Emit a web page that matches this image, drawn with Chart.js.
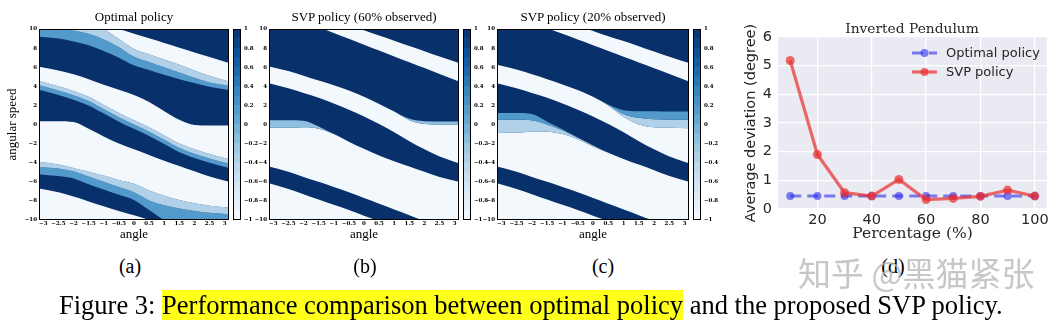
<!DOCTYPE html>
<html>
<head>
<meta charset="utf-8">
<script src="https://cdn.jsdelivr.net/npm/chart.js@4.4.1/dist/chart.umd.min.js"></script>
<style>
  html, body { margin:0; padding:0; background:#fff; }
  body { width:1063px; height:329px; position:relative; overflow:hidden; }
  canvas { position:absolute; top:0; }
  .txt { position:absolute; white-space:nowrap; color:#000; font-family:'Liberation Serif','Times New Roman',serif; }
  .c { transform:translateX(-50%); }
</style>
</head>
<body>
<canvas id="heatA" width="232" height="250" style="left:0px"></canvas>
<canvas id="barA" width="30" height="250" style="left:232px"></canvas>
<canvas id="heatB" width="218" height="250" style="left:244px"></canvas>
<canvas id="barB" width="30" height="250" style="left:462px"></canvas>
<canvas id="heatC" width="220" height="250" style="left:472px"></canvas>
<canvas id="barC" width="30" height="250" style="left:692px"></canvas>
<canvas id="lineD" width="333" height="250" style="left:730px"></canvas>

<div class="txt c" style="left:134px;top:9px;font-size:13px;line-height:15px">Optimal policy</div>
<div class="txt c" style="left:364px;top:9px;font-size:13px;line-height:15px">SVP policy (60% observed)</div>
<div class="txt c" style="left:593px;top:9px;font-size:13px;line-height:15px">SVP policy (20% observed)</div>
<div class="txt c" style="left:912px;top:20px;font-size:13.8px;line-height:16px;font-family:'DejaVu Serif',serif;color:#262626">Inverted Pendulum</div>

<div class="txt c" style="left:130px;top:256px;font-size:20px;line-height:20px">(a)</div>
<div class="txt c" style="left:365px;top:256px;font-size:20px;line-height:20px">(b)</div>
<div class="txt c" style="left:603px;top:256px;font-size:20px;line-height:20px">(c)</div>
<div class="txt c" style="left:893px;top:256px;font-size:20px;line-height:20px">(d)</div>
<div class="txt" style="left:798px;top:252px;font-size:33px;line-height:40px;font-family:'Noto Sans CJK SC',sans-serif;color:rgba(185,185,185,0.8)">知乎 @黑猫紧张</div>
<div class="txt" style="left:59px;top:292px;font-size:26.5px;line-height:26.5px">Figure 3: <span style="background:#ffff1a">Performance comparison between optimal policy</span> and the proposed SVP policy.</div>

<script>
// ---------------- data ----------------
const angleGrid  = [-3.1416, -2.5, -2, -1.5, -1, -0.5, 0, 0.5, 1, 1.5, 2, 2.5, 3.1416];
const angleTicks = [-3, -2.5, -2, -1.5, -1, -0.5, 0, 0.5, 1, 1.5, 2, 2.5, 3];
const speedTicks = [-10, -8, -6, -4, -2, 0, 2, 4, 6, 8, 10];
const colorbarTicks  = [-1, -0.8, -0.6, -0.4, -0.2, 0, 0.2, 0.4, 0.6, 0.8, 1];
const colorbarLevels = [-1, -0.9, -0.8, -0.7, -0.6, -0.5, -0.4, -0.3, -0.2, -0.1, 0, 0.1, 0.2, 0.3, 0.4, 0.5, 0.6, 0.7, 0.8, 0.9, 1];

// (a) optimal policy: switching curves (angular speed at each angleGrid point)
const optSwitch0  = [12.6, 11.96, 11.47, 10.98, 10.49, 10.0, 9.51, 9.02, 8.53, 8.04, 7.55, 7.06, 6.44];
const optSwitch1w = [11.6, 11.3, 11.0, 10.6, 10.0, 8.95, 7.9, 7.35, 6.8, 6.25, 5.65, 5.1, 4.5];
const optSwitch1m = [10.2, 10.05, 9.85, 9.5, 8.9, 8.1, 7.1, 6.55, 6.0, 5.45, 4.9, 4.4, 4.05];
const optSwitch1d = [9.2, 9.0, 8.7, 8.3, 7.7, 7.0, 6.2, 5.7, 5.2, 4.75, 4.35, 3.95, 3.6];
const optSwitch2  = [6.05, 5.65, 5.25, 4.75, 4.15, 3.65, 3.1, 2.35, 1.4, 0.5, -0.05, -0.1, -0.1];
const optSwitch3w = [4.55, 4.0, 3.5, 2.9, 2.05, 1.2, 0.45, -0.3, -1.15, -2.0, -2.6, -3.1, -3.65];
const optSwitch3m = [4.1, 3.55, 3.05, 2.45, 1.6, 0.75, 0.0, -0.75, -1.6, -2.45, -3.05, -3.55, -4.1];
const optSwitch3d = [3.65, 3.1, 2.6, 2.0, 1.15, 0.3, -0.45, -1.2, -2.05, -2.9, -3.5, -4.0, -4.55];
const optSwitch4  = [0.35, 0.35, 0.25, -0.45, -1.25, -2.0, -2.6, -3.2, -3.8, -4.35, -4.9, -5.45, -6.0];
const optSwitch5w = [-3.9, -4.2, -4.55, -4.95, -5.35, -5.8, -6.2, -6.9, -7.45, -7.9, -8.25, -8.5, -8.7];
const optSwitch5m = [-4.5, -4.6, -4.9, -5.45, -6.0, -6.55, -7.1, -7.95, -8.45, -8.8, -9.05, -9.25, -9.4];
const optSwitch5d = [-5.2, -5.4, -5.65, -6.25, -6.8, -7.35, -7.9, -8.95, -10.0, -10.6, -11.0, -11.3, -11.6];
const optSwitch6  = [-6.7, -7.1, -7.55, -8.05, -8.55, -9.05, -9.5, -10.0, -10.5, -11.0, -11.5, -12.0, -12.6];

// (b) SVP policy, 60% observed
const svp60Switch0  = [13.0, 12.4, 11.9, 11.4, 10.9, 10.4, 9.86, 9.31, 8.77, 8.22, 7.68, 7.13, 6.43];
const svp60Switch1  = [12.1, 11.4, 10.8, 10.2, 9.58, 8.97, 8.36, 7.75, 7.13, 6.52, 5.91, 5.3, 4.51];
const svp60Switch2  = [6.08, 5.6, 5.1, 4.6, 4.1, 3.55, 2.9, 2.15, 1.35, 0.6, 0.35, 0.32, 0.31];
const svp60Switch2f = [6.08, 5.6, 5.1, 4.6, 4.1, 3.55, 2.9, 2.15, 1.35, 0.45, 0.05, 0.0, -0.03];
const svp60Switch3  = [4.33, 3.8, 3.3, 2.8, 2.2, 1.55, 0.85, 0.05, -0.8, -1.75, -2.6, -3.35, -4.06];
const svp60Switch4  = [0.45, 0.45, 0.4, -0.2, -1.0, -1.8, -2.55, -3.25, -3.85, -4.4, -4.95, -5.5, -6.0];
const svp60Switch4f = [-0.35, -0.35, -0.3, -0.45, -1.0, -1.8, -2.55, -3.25, -3.85, -4.4, -4.95, -5.5, -6.0];
const svp60Switch5  = [-4.4, -4.95, -5.5, -6.0, -6.55, -7.1, -7.7, -8.3, -8.9, -9.5, -10.1, -10.7, -11.4];
const svp60Switch6  = [-6.15, -6.75, -7.3, -7.85, -8.4, -8.95, -9.55, -10.1, -10.7, -11.3, -11.9, -12.5, -13.0];

// (c) SVP policy, 20% observed
const svp20Switch0  = [13.0, 12.4, 11.9, 11.4, 10.85, 10.3, 9.8, 9.25, 8.75, 8.2, 7.65, 7.1, 6.43];
const svp20Switch1  = [12.0, 11.3, 10.7, 10.1, 9.5, 8.9, 8.3, 7.7, 7.1, 6.5, 5.9, 5.3, 4.5];
const svp20Switch2  = [6.25, 5.75, 5.25, 4.75, 4.2, 3.6, 2.9, 2.1, 1.5, 1.4, 1.4, 1.35, 1.36];
const svp20Switch2m = [6.25, 5.75, 5.25, 4.75, 4.2, 3.6, 2.9, 2.05, 1.1, 0.7, 0.55, 0.5, 0.49];
const svp20Switch2l = [6.25, 5.75, 5.25, 4.75, 4.2, 3.6, 2.9, 2.0, 0.8, 0.0, -0.3, -0.35, -0.38];
const svp20Switch3  = [4.33, 3.8, 3.3, 2.8, 2.2, 1.55, 0.85, 0.05, -0.8, -1.75, -2.6, -3.35, -4.06];
const svp20Switch4  = [1.2, 1.2, 1.1, 0.3, -0.5, -1.35, -2.2, -2.95, -3.6, -4.2, -4.8, -5.4, -6.0];
const svp20Switch4m = [0.5, 0.5, 0.45, 0.0, -0.6, -1.4, -2.2, -2.95, -3.6, -4.2, -4.8, -5.4, -6.0];
const svp20Switch4l = [-0.9, -0.85, -0.75, -0.75, -1.0, -1.55, -2.3, -2.95, -3.6, -4.2, -4.8, -5.4, -6.0];
const svp20Switch5  = [-4.4, -4.95, -5.5, -6.0, -6.55, -7.1, -7.7, -8.3, -8.9, -9.5, -10.1, -10.7, -11.4];
const svp20Switch6  = [-6.15, -6.75, -7.3, -7.85, -8.4, -8.95, -9.55, -10.1, -10.7, -11.3, -11.9, -12.5, -13.0];

// (d) inverted pendulum deviation
const percentObserved  = [10, 20, 30, 40, 50, 60, 70, 80, 90, 100];
const optimalDeviation = [0.45, 0.45, 0.45, 0.45, 0.45, 0.45, 0.45, 0.45, 0.45, 0.45];
const svpDeviation     = [5.18, 1.9, 0.57, 0.45, 1.03, 0.33, 0.37, 0.44, 0.66, 0.45];
const percentTicks     = [20, 40, 60, 80, 100];
const deviationTicks   = [0, 1, 2, 3, 4, 5, 6];

// ---------------- styles ----------------
const BLUES = ['#f7fbff','#deebf7','#c6dbef','#9ecae1','#6baed6','#4292c6','#2171b5','#08519c','#08306b'];
function hex2rgb(h){ return [1,3,5].map(i=>parseInt(h.substr(i,2),16)); }
function blues(t){
  t = Math.max(0, Math.min(1, t)) * (BLUES.length - 1);
  const i = Math.min(Math.floor(t), BLUES.length - 2), f = t - i;
  const a = hex2rgb(BLUES[i]), b = hex2rgb(BLUES[i+1]);
  return 'rgb(' + a.map((v,k)=>Math.round(v + (b[k]-v)*f)).join(',') + ')';
}
const DARK  = '#08306b';
const WHITE = '#f3f8fd';
const LIGHT = '#b0d1e8';
const MID   = '#5299cc';
const FRINGE = '#8fc0e0';
const minus = v => (v < 0 ? '\u2212' + Math.abs(v) : String(v));
const tinyFont = { family: 'DejaVu Serif', size: 5.5, weight: 'bold' };

const framePlugin = {
  id: 'frame',
  beforeDraw(chart, args, opts) {
    if (!opts.fill) return;
    const a = chart.chartArea, ctx = chart.ctx;
    ctx.save(); ctx.fillStyle = opts.fill; ctx.fillRect(a.left, a.top, a.right - a.left, a.bottom - a.top); ctx.restore();
  },
  afterDraw(chart, args, opts) {
    if (!opts.stroke) return;
    const a = chart.chartArea, ctx = chart.ctx;
    ctx.save(); ctx.strokeStyle = opts.stroke; ctx.lineWidth = 1;
    ctx.strokeRect(Math.round(a.left) + 0.5, Math.round(a.top) + 0.5, Math.round(a.right - a.left) - 1, Math.round(a.bottom - a.top) - 1);
    ctx.restore();
  }
};

function curve(arr){ return angleGrid.map((x, i) => ({ x, y: arr[i] })); }

function heatmap(id, bands, yTitle, yWidth) {
  const common = { borderWidth: 0, borderColor: 'rgba(0,0,0,0)', pointRadius: 0, cubicInterpolationMode: 'monotone', capBezierPoints: false };
  const datasets = [];
  bands.forEach(([upper, lower, color]) => {
    datasets.push(Object.assign({ data: curve(upper), fill: lower === 'start' ? 'start' : '+1', backgroundColor: color }, common));
    if (lower !== 'start') datasets.push(Object.assign({ data: curve(lower), fill: false }, common));
  });
  return new Chart(document.getElementById(id), {
    type: 'line',
    data: { datasets },
    plugins: [framePlugin],
    options: {
      responsive: false, animation: false, devicePixelRatio: 1,
      layout: { padding: { left: 0, right: 3, top: 29, bottom: 0 } },
      plugins: { legend: { display: false }, tooltip: { enabled: false }, frame: { fill: DARK, stroke: '#000' } },
      scales: {
        x: {
          type: 'linear', min: -Math.PI, max: Math.PI,
          afterBuildTicks: s => { s.ticks = angleTicks.map(v => ({ value: v })); },
          afterFit: s => { s.height = 30; },
          grid: { display: false, drawTicks: false }, border: { display: false },
          ticks: { font: tinyFont, color: '#000', padding: 0, autoSkip: false, maxRotation: 0, callback: v => minus(v) },
          title: { display: true, text: 'angle', color: '#000', font: { family: 'Liberation Serif', size: 13 }, padding: { top: 0, bottom: 8 } }
        },
        y: {
          type: 'linear', min: -10, max: 10,
          afterBuildTicks: s => { s.ticks = speedTicks.map(v => ({ value: v })); },
          afterFit: s => { s.width = yWidth; },
          grid: { display: false, drawTicks: false }, border: { display: false },
          ticks: { font: tinyFont, color: '#000', padding: 2, autoSkip: false, callback: v => minus(v) },
          title: { display: yTitle, text: 'angular speed', color: '#000', font: { family: 'Liberation Serif', size: 13 }, padding: { top: 5, bottom: 0 } }
        }
      }
    }
  });
}

function colorbar(id) {
  const datasets = [];
  for (let i = 0; i < colorbarLevels.length - 1; i++) {
    datasets.push({ data: [[colorbarLevels[i], colorbarLevels[i+1]]], backgroundColor: blues((i + 0.5) / (colorbarLevels.length - 1)),
      borderWidth: 0, barPercentage: 1, categoryPercentage: 1, grouped: false });
  }
  return new Chart(document.getElementById(id), {
    type: 'bar',
    data: { labels: ['level'], datasets },
    plugins: [framePlugin],
    options: {
      responsive: false, animation: false, devicePixelRatio: 1,
      layout: { padding: { left: 1, right: 0, top: 29, bottom: 30 } },
      plugins: { legend: { display: false }, tooltip: { enabled: false }, frame: { stroke: '#000' } },
      scales: {
        x: { display: false },
        y: {
          position: 'right', min: -1, max: 1,
          afterBuildTicks: s => { s.ticks = colorbarTicks.map(v => ({ value: v })); },
          afterFit: s => { s.width = 21; },
          grid: { display: false, drawTicks: false }, border: { display: false },
          ticks: { font: tinyFont, color: '#000', padding: 3, autoSkip: false, callback: v => minus(v) }
        }
      }
    }
  });
}

heatmap('heatA', [
  [optSwitch0, optSwitch1w, WHITE], [optSwitch1w, optSwitch1m, LIGHT], [optSwitch1m, optSwitch1d, MID],
  [optSwitch2, optSwitch3w, WHITE], [optSwitch3w, optSwitch3m, LIGHT], [optSwitch3m, optSwitch3d, MID],
  [optSwitch4, optSwitch5w, WHITE], [optSwitch5w, optSwitch5m, LIGHT], [optSwitch5m, optSwitch5d, MID],
  [optSwitch6, 'start', WHITE]
], true, 39);
heatmap('heatB', [
  [svp60Switch0, svp60Switch1, WHITE],
  [svp60Switch2, svp60Switch2f, FRINGE], [svp60Switch2f, svp60Switch3, WHITE],
  [svp60Switch4, svp60Switch4f, FRINGE], [svp60Switch4f, svp60Switch5, WHITE],
  [svp60Switch6, 'start', WHITE]
], false, 25);
heatmap('heatC', [
  [svp20Switch0, svp20Switch1, WHITE],
  [svp20Switch2, svp20Switch2m, MID], [svp20Switch2m, svp20Switch2l, LIGHT], [svp20Switch2l, svp20Switch3, WHITE],
  [svp20Switch4, svp20Switch4m, MID], [svp20Switch4m, svp20Switch4l, LIGHT], [svp20Switch4l, svp20Switch5, WHITE],
  [svp20Switch6, 'start', WHITE]
], false, 25);
colorbar('barA'); colorbar('barB'); colorbar('barC');

// ---------------- line chart (d) ----------------
const legendPlugin = {
  id: 'insideLegend',
  afterDatasetsDraw(chart) {
    const a = chart.chartArea, ctx = chart.ctx;
    chart.data.datasets.forEach((ds, i) => {
      const y = a.top + 16 + i * 19, x0 = a.right - 135;
      ctx.save();
      ctx.strokeStyle = ds.borderColor; ctx.lineWidth = ds.borderWidth; ctx.setLineDash(ds.borderDash || []);
      ctx.beginPath(); ctx.moveTo(x0, y); ctx.lineTo(x0 + 25, y); ctx.stroke();
      ctx.setLineDash([]); ctx.fillStyle = ds.backgroundColor;
      ctx.beginPath(); ctx.arc(x0 + 12.5, y, 4, 0, Math.PI * 2); ctx.fill();
      ctx.fillStyle = '#262626'; ctx.font = '13px "DejaVu Sans"'; ctx.textBaseline = 'middle';
      ctx.fillText(ds.label, x0 + 34, y + 1);
      ctx.restore();
    });
  }
};
const pts = ys => percentObserved.map((p, i) => ({ x: p, y: ys[i] }));
new Chart(document.getElementById('lineD'), {
  type: 'line',
  data: { datasets: [
    { label: 'Optimal policy', data: pts(optimalDeviation), borderColor: 'rgba(45,45,235,0.6)', backgroundColor: 'rgba(45,45,235,0.6)',
      borderWidth: 3, borderDash: [11, 6], pointRadius: 4, pointBorderWidth: 0, order: 1 },
    { label: 'SVP policy', data: pts(svpDeviation), borderColor: 'rgba(232,45,45,0.7)', backgroundColor: 'rgba(232,45,45,0.7)',
      borderWidth: 3.2, pointRadius: 4.5, pointBorderWidth: 0, order: 0 }
  ]},
  plugins: [framePlugin, legendPlugin],
  options: {
    responsive: false, animation: false, devicePixelRatio: 1,
    layout: { padding: { left: 0, right: 16, top: 37, bottom: 0 } },
    plugins: { legend: { display: false }, tooltip: { enabled: false }, frame: { fill: '#eaeaf2' } },
    scales: {
      x: {
        type: 'linear', min: 5.5, max: 104.5,
        afterBuildTicks: s => { s.ticks = percentTicks.map(v => ({ value: v })); },
        afterFit: s => { s.height = 41; },
        grid: { color: '#ffffff', lineWidth: 1.2, drawTicks: false }, border: { display: false },
        ticks: { font: { family: 'DejaVu Sans', size: 14.5 }, color: '#262626', padding: 3 },
        title: { display: true, text: 'Percentage (%)', color: '#262626', font: { family: 'DejaVu Serif', size: 15.5 }, padding: { top: 0, bottom: 6.5 } }
      },
      y: {
        type: 'linear', min: 0, max: 6,
        afterBuildTicks: s => { s.ticks = deviationTicks.map(v => ({ value: v })); },
        afterFit: s => { s.width = 48; },
        grid: { color: '#ffffff', lineWidth: 1.2, drawTicks: false }, border: { display: false },
        ticks: { font: { family: 'DejaVu Sans', size: 14.5 }, color: '#262626', padding: 6 },
        title: { display: true, text: 'Average deviation (degree)', color: '#262626', font: { family: 'DejaVu Sans', size: 14.5 }, padding: { top: 13, bottom: 0 } }
      }
    }
  }
});
</script>
</body>
</html>
